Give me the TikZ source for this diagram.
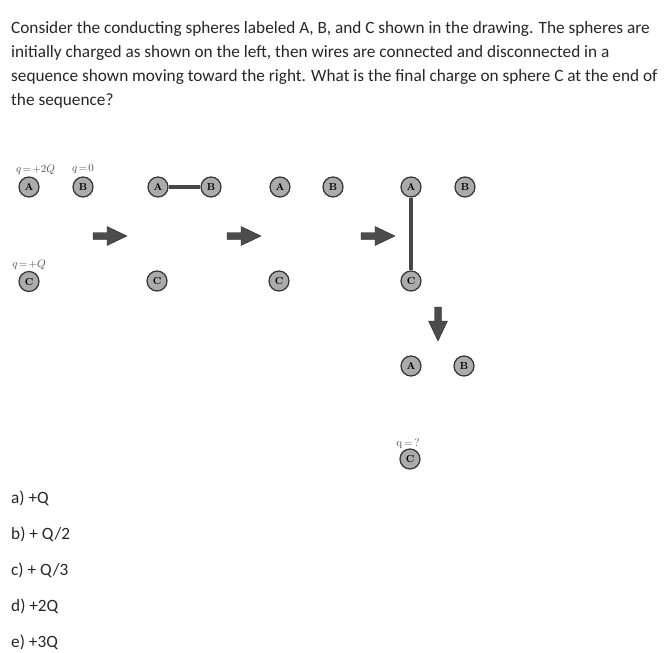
\documentclass[tikz,border=0pt]{standalone}
\usepackage{fontspec}
\setmainfont{Carlito}
\usepackage{amsmath}
\tikzset{x=1pt,y=-1pt,
  sphere/.style={circle,draw=black!80,line width=1.2pt,fill=black!33,minimum size=20pt,inner sep=0pt,font=\fontsize{10.2}{11}\selectfont\rmlabel},
  wire/.style={line width=3.4pt,draw=black!72},
  stepline/.style={anchor=base west,inner sep=0pt,font=\fontsize{17.25}{20}\selectfont,text=black!85},
  choice/.style={anchor=base west,inner sep=0pt,font=\fontsize{17.25}{20}\selectfont,text=black!85},
  charge/.style={inner sep=0pt,text=black!70,font=\fontsize{11}{11}\selectfont\lmlabel},
  flowarrow/.style={draw=black!85,line width=.4pt,fill=black!70}}
\newfontfamily\lmlabel{Latin Modern Roman}
\newcommand{\rmlabel}{\lmlabel\bfseries}
\newcommand{\blockarrowR}[2]{\fill[flowarrow] (#1,#2) ++(0,-3.5) -- ++(14,0) -- ++(0,-6) -- ++(20,9.5) -- ++(-20,9.5) -- ++(0,-6) -- ++(-14,0) -- cycle;}
\newcommand{\blockarrowD}[2]{\fill[flowarrow] (#1,#2) ++(-3.5,0) -- ++(0,14) -- ++(-6,0) -- ++(9.5,20) -- ++(9.5,-20) -- ++(-6,0) -- ++(0,-14) -- cycle;}
\begin{document}
\begin{tikzpicture}
\useasboundingbox (0,0) rectangle (667,653);
\fill[white] (0,0) rectangle (667,653);
\node[stepline] (l1) at (11,33) {Consider the conducting spheres labeled A, B, and C shown in the drawing. The spheres are};
\node[stepline] (l2) at (11,57) {initially charged as shown on the left, then wires are connected and disconnected in a};
\node[stepline] (l3) at (11,81) {sequence shown moving toward the right. What is the final charge on sphere C at the end of};
\node[stepline] (l4) at (11,105) {the sequence?};
\node[sphere] (a1) at (29,187) {A};
\node[sphere] (b1) at (83,187) {B};
\node[sphere] (c1) at (29,281.5) {C};
\node[sphere] (a2) at (158,187) {A};
\node[sphere] (b2) at (211,187) {B};
\node[sphere] (c2) at (157,281) {C};
\node[sphere] (a3) at (280,187) {A};
\node[sphere] (b3) at (333,187) {B};
\node[sphere] (c3) at (279,281) {C};
\node[sphere] (a4) at (411,187) {A};
\node[sphere] (b4) at (465,187) {B};
\node[sphere] (c4) at (411,281) {C};
\node[sphere] (a5) at (411,366) {A};
\node[sphere] (b5) at (464,366) {B};
\node[sphere] (c5) at (410,459) {C};
\draw[wire] (a2) -- (b2);
\draw[wire] (a4) -- (c4);
\node[charge] (qa) at (35.5,170) {$q\mkern2mu{=}\mkern2mu{+}2Q$};
\node[charge] (qb) at (83,169) {$q\mkern2mu{=}\mkern2mu0$};
\node[charge] (qc) at (29,265) {$q\mkern2mu{=}\mkern2mu{+}Q$};
\node[charge] (qq) at (408,444) {q\,=\,?};
\blockarrowR{93}{236}
\blockarrowR{227}{236}
\blockarrowR{361}{236}
\blockarrowD{438}{307}
\node[choice] (ca) at (11,503) {a) +Q};
\node[choice] (cb) at (11,539) {b) + Q/2};
\node[choice] (cc) at (11,575) {c) + Q/3};
\node[choice] (cd) at (11,611) {d) +2Q};
\node[choice] (ce) at (11,647) {e) +3Q};
\end{tikzpicture}
\end{document}
